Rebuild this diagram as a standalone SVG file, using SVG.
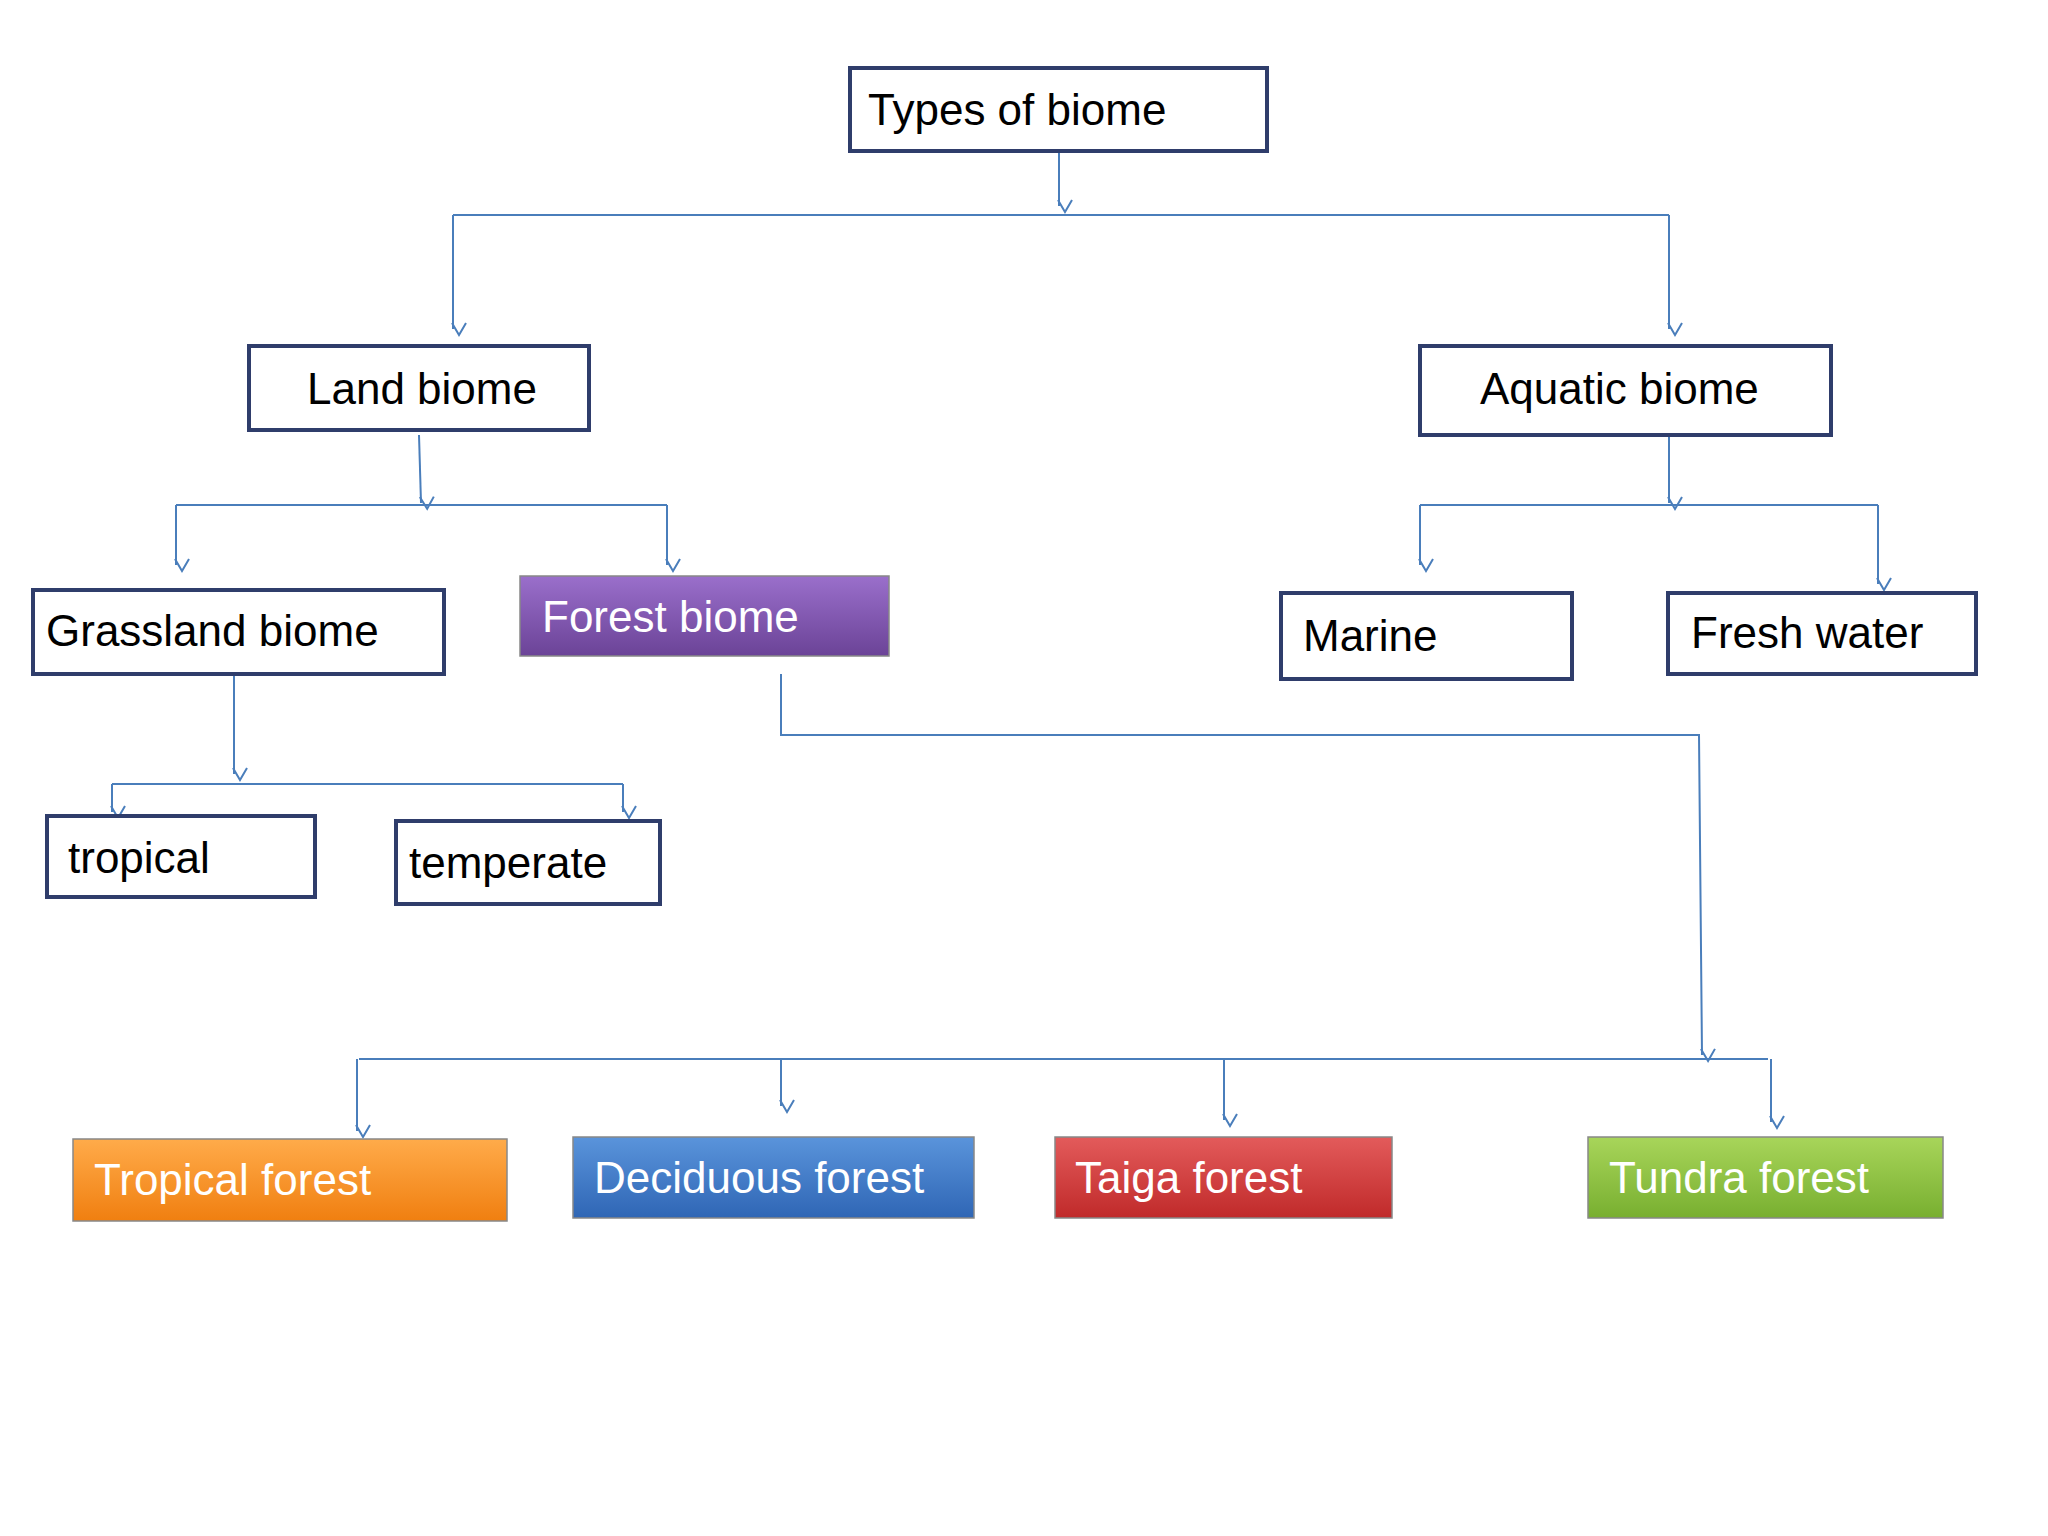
<svg xmlns="http://www.w3.org/2000/svg" width="2048" height="1536" viewBox="0 0 2048 1536">
<defs>
<marker id="a" markerWidth="16" markerHeight="16" refX="8" refY="14" orient="auto-start-reverse" markerUnits="userSpaceOnUse" viewBox="0 0 16 16"><path d="M1,2 L8,14 L15,2" transform="rotate(-90 8 8)" fill="none" stroke="#4A7EBB" stroke-width="2"/></marker>
<linearGradient id="gp" x1="0" y1="0" x2="0" y2="1"><stop offset="0" stop-color="#9A6FCB"/><stop offset="1" stop-color="#6B4397"/></linearGradient>
<linearGradient id="go" x1="0" y1="0" x2="0" y2="1"><stop offset="0" stop-color="#FFAB4A"/><stop offset="1" stop-color="#F07F10"/></linearGradient>
<linearGradient id="gb" x1="0" y1="0" x2="0" y2="1"><stop offset="0" stop-color="#5A94DB"/><stop offset="1" stop-color="#2F66B5"/></linearGradient>
<linearGradient id="gr" x1="0" y1="0" x2="0" y2="1"><stop offset="0" stop-color="#E35B5B"/><stop offset="1" stop-color="#C02A2A"/></linearGradient>
<linearGradient id="gg" x1="0" y1="0" x2="0" y2="1"><stop offset="0" stop-color="#A8D55A"/><stop offset="1" stop-color="#78AF30"/></linearGradient>
</defs>
<style>
.b{fill:#fff;stroke:#2F3D6B;stroke-width:4}
.c{fill:none;stroke:#4A7EBB;stroke-width:2}
.t{font-family:"Liberation Sans",Arial,sans-serif;font-size:44px;fill:#000}
.w{font-family:"Liberation Sans",Arial,sans-serif;font-size:44px;fill:#fff}
.f{stroke:#888;stroke-width:1.5}
</style>
<rect width="2048" height="1536" fill="#fff"/>
<g id="connectors" class="c">
<path d="M1059,151 V206" marker-end="url(#a)"/>
<path d="M453,215 H1669"/>
<path d="M453,215 V329" marker-end="url(#a)"/>
<path d="M1669,215 V329" marker-end="url(#a)"/>
<path d="M419,435 L421,503" marker-end="url(#a)"/>
<path d="M176,505 H667"/>
<path d="M176,505 V565" marker-end="url(#a)"/>
<path d="M667,505 V565" marker-end="url(#a)"/>
<path d="M1669,435 V503" marker-end="url(#a)"/>
<path d="M1420,505 H1878"/>
<path d="M1420,505 V565" marker-end="url(#a)"/>
<path d="M1878,505 V584" marker-end="url(#a)"/>
<path d="M234,674 V774" marker-end="url(#a)"/>
<path d="M112,784 H623"/>
<path d="M112,784 V812" marker-end="url(#a)"/>
<path d="M623,784 V812" marker-end="url(#a)"/>
<path d="M781,674 V735 H1699 L1702,1055" marker-end="url(#a)"/>
<path d="M359,1059 H1768"/>
<path d="M357,1059 V1131" marker-end="url(#a)"/>
<path d="M781,1059 V1106" marker-end="url(#a)"/>
<path d="M1224,1059 V1120" marker-end="url(#a)"/>
<path d="M1771,1059 V1122" marker-end="url(#a)"/>
</g>
<g id="types"><rect class="b" x="850" y="68" width="417" height="83"/><text class="t" x="868" y="125">Types of biome</text></g>
<g id="land"><rect class="b" x="249" y="346" width="340" height="84"/><text class="t" x="307" y="404">Land biome</text></g>
<g id="aquatic"><rect class="b" x="1420" y="346" width="411" height="89"/><text class="t" x="1480" y="404">Aquatic biome</text></g>
<g id="grassland"><rect class="b" x="33" y="590" width="411" height="84"/><text class="t" x="46" y="646">Grassland biome</text></g>
<g id="forest"><rect x="520" y="576" width="369" height="80" fill="url(#gp)" class="f"/><text class="w" x="542" y="632">Forest biome</text></g>
<g id="marine"><rect class="b" x="1281" y="593" width="291" height="86"/><text class="t" x="1303" y="651">Marine</text></g>
<g id="fresh"><rect class="b" x="1668" y="593" width="308" height="81"/><text class="t" x="1691" y="648">Fresh water</text></g>
<g id="tropical"><rect class="b" x="47" y="816" width="268" height="81"/><text class="t" x="68" y="873">tropical</text></g>
<g id="temperate"><rect class="b" x="396" y="821" width="264" height="83"/><text class="t" x="409" y="878">temperate</text></g>
<g id="tropforest"><rect x="73" y="1139" width="434" height="82" fill="url(#go)" class="f"/><text class="w" x="94" y="1195">Tropical forest</text></g>
<g id="deciduous"><rect x="573" y="1137" width="401" height="81" fill="url(#gb)" class="f"/><text class="w" x="594" y="1193">Deciduous forest</text></g>
<g id="taiga"><rect x="1055" y="1137" width="337" height="81" fill="url(#gr)" class="f"/><text class="w" x="1075" y="1193">Taiga forest</text></g>
<g id="tundra"><rect x="1588" y="1137" width="355" height="81" fill="url(#gg)" class="f"/><text class="w" x="1609" y="1193">Tundra forest</text></g>
</svg>
